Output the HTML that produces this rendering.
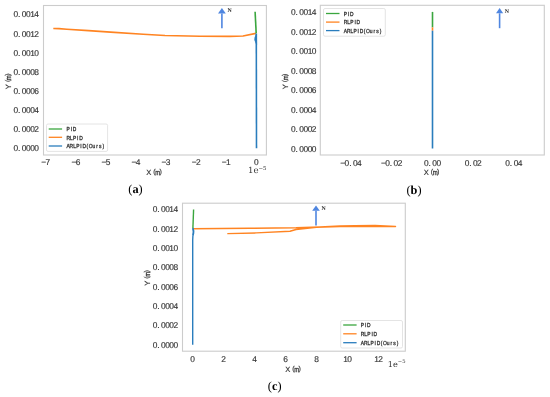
<!DOCTYPE html>
<html><head><meta charset="utf-8"><title>Figure</title>
<style>
html,body{margin:0;padding:0;background:#fff;width:550px;height:397px;overflow:hidden}
svg{position:absolute;left:0;top:0;display:block}
</style></head><body>
<svg width="550" height="397" viewBox="0 0 550 397" text-rendering="geometricPrecision">
<rect width="550" height="397" fill="#fff"/>
<rect x="43.5" y="5.5" width="222.90" height="149.50" fill="none" stroke="#cccccc" stroke-width="1.1"/>
<text x="15.88 19.23 24.18 28.33 32.48 36.62" y="151.30" font-size="8.4" text-anchor="middle" font-family='"Liberation Sans","Noto Sans CJK SC",sans-serif' fill="#333333" stroke="#333333" stroke-width="0.15" >0.0000</text>
<text x="15.88 19.23 24.18 28.33 32.48 36.62" y="132.17" font-size="8.4" text-anchor="middle" font-family='"Liberation Sans","Noto Sans CJK SC",sans-serif' fill="#333333" stroke="#333333" stroke-width="0.15" >0.0002</text>
<text x="15.88 19.23 24.18 28.33 32.48 36.62" y="113.04" font-size="8.4" text-anchor="middle" font-family='"Liberation Sans","Noto Sans CJK SC",sans-serif' fill="#333333" stroke="#333333" stroke-width="0.15" >0.0004</text>
<text x="15.88 19.23 24.18 28.33 32.48 36.62" y="93.91" font-size="8.4" text-anchor="middle" font-family='"Liberation Sans","Noto Sans CJK SC",sans-serif' fill="#333333" stroke="#333333" stroke-width="0.15" >0.0006</text>
<text x="15.88 19.23 24.18 28.33 32.48 36.62" y="74.78" font-size="8.4" text-anchor="middle" font-family='"Liberation Sans","Noto Sans CJK SC",sans-serif' fill="#333333" stroke="#333333" stroke-width="0.15" >0.0008</text>
<text x="15.88 19.23 24.18 28.33 32.48 36.62" y="55.65" font-size="8.4" text-anchor="middle" font-family='"Liberation Sans","Noto Sans CJK SC",sans-serif' fill="#333333" stroke="#333333" stroke-width="0.15" >0.0010</text>
<text x="15.88 19.23 24.18 28.33 32.48 36.62" y="36.52" font-size="8.4" text-anchor="middle" font-family='"Liberation Sans","Noto Sans CJK SC",sans-serif' fill="#333333" stroke="#333333" stroke-width="0.15" >0.0012</text>
<text x="15.88 19.23 24.18 28.33 32.48 36.62" y="17.39" font-size="8.4" text-anchor="middle" font-family='"Liberation Sans","Noto Sans CJK SC",sans-serif' fill="#333333" stroke="#333333" stroke-width="0.15" >0.0014</text>
<text x="43.81 47.96" y="165.10" font-size="8.4" text-anchor="middle" font-family='"Liberation Sans","Noto Sans CJK SC",sans-serif' fill="#333333" stroke="#333333" stroke-width="0.15" >−7</text>
<text x="73.87 78.02" y="165.10" font-size="8.4" text-anchor="middle" font-family='"Liberation Sans","Noto Sans CJK SC",sans-serif' fill="#333333" stroke="#333333" stroke-width="0.15" >−6</text>
<text x="103.93 108.08" y="165.10" font-size="8.4" text-anchor="middle" font-family='"Liberation Sans","Noto Sans CJK SC",sans-serif' fill="#333333" stroke="#333333" stroke-width="0.15" >−5</text>
<text x="133.98 138.13" y="165.10" font-size="8.4" text-anchor="middle" font-family='"Liberation Sans","Noto Sans CJK SC",sans-serif' fill="#333333" stroke="#333333" stroke-width="0.15" >−4</text>
<text x="164.04 168.19" y="165.10" font-size="8.4" text-anchor="middle" font-family='"Liberation Sans","Noto Sans CJK SC",sans-serif' fill="#333333" stroke="#333333" stroke-width="0.15" >−3</text>
<text x="194.10 198.25" y="165.10" font-size="8.4" text-anchor="middle" font-family='"Liberation Sans","Noto Sans CJK SC",sans-serif' fill="#333333" stroke="#333333" stroke-width="0.15" >−2</text>
<text x="224.16 228.31" y="165.10" font-size="8.4" text-anchor="middle" font-family='"Liberation Sans","Noto Sans CJK SC",sans-serif' fill="#333333" stroke="#333333" stroke-width="0.15" >−1</text>
<text x="256.30" y="165.10" font-size="8.4" text-anchor="middle" font-family='"Liberation Sans","Noto Sans CJK SC",sans-serif' fill="#333333" stroke="#333333" stroke-width="0.15" >0</text>
<text x="148.80" y="175.20" font-size="7.6" text-anchor="middle" font-family='"Liberation Sans","Noto Sans CJK SC",sans-serif' fill="#333333" stroke="#333333" stroke-width="0.15" >X</text><text x="154.50" y="174.25" font-size="7.068" text-anchor="middle" font-family='"Liberation Sans","Noto Sans CJK SC",sans-serif' fill="#333333" stroke="#333333" stroke-width="0.15" >(</text><text x="160.80" y="174.25" font-size="7.068" text-anchor="middle" font-family='"Liberation Sans","Noto Sans CJK SC",sans-serif' fill="#333333" stroke="#333333" stroke-width="0.15" >)</text><text x="0" y="0" font-size="7.6" text-anchor="middle" font-family='"Liberation Sans","Noto Sans CJK SC",sans-serif' fill="#333333" stroke="#333333" stroke-width="0.3" transform="translate(157.70,175.20) scale(0.78,1)">m</text>
<g transform="rotate(-90 7.6 81.4)"><text x="2.40" y="84.40" font-size="7.6" text-anchor="middle" font-family='"Liberation Sans","Noto Sans CJK SC",sans-serif' fill="#333333" stroke="#333333" stroke-width="0.15" >Y</text><text x="8.10" y="83.45" font-size="7.068" text-anchor="middle" font-family='"Liberation Sans","Noto Sans CJK SC",sans-serif' fill="#333333" stroke="#333333" stroke-width="0.15" >(</text><text x="14.40" y="83.45" font-size="7.068" text-anchor="middle" font-family='"Liberation Sans","Noto Sans CJK SC",sans-serif' fill="#333333" stroke="#333333" stroke-width="0.15" >)</text><text x="0" y="0" font-size="7.6" text-anchor="middle" font-family='"Liberation Sans","Noto Sans CJK SC",sans-serif' fill="#333333" stroke="#333333" stroke-width="0.3" transform="translate(11.30,84.40) scale(0.78,1)">m</text></g>
<text x="266.60" y="173.20" font-size="8.6" text-anchor="end" font-family='"DejaVu Serif","Liberation Serif",serif' fill="#333333">1e<tspan font-size="5.50" dy="-3.44">−5</tspan></text>
<polyline points="53.30,28.50 59.00,28.60 66.80,29.20 88.60,30.60 110.50,32.10 143.20,34.30 165.00,35.50 200.00,36.20 230.00,36.40 243.00,36.00 255.90,33.40" fill="none" stroke="#ff8422" stroke-width="1.6" stroke-linejoin="round" stroke-linecap="butt"/>
<polyline points="255.10,11.70 256.20,33.40" fill="none" stroke="#3aa63e" stroke-width="1.6" stroke-linejoin="round" stroke-linecap="butt"/>
<polyline points="256.30,33.40 256.50,148.30" fill="none" stroke="#2a7dbd" stroke-width="1.6" stroke-linejoin="round" stroke-linecap="butt"/>
<polygon points="256.4,34.0 255.0,37.5 254.8,40.0 256.6,44.5" fill="#2a7dbd" stroke="#2a7dbd" stroke-width="0.9" stroke-linejoin="round"/>
<rect x="46.5" y="124" width="61.1" height="27.4" rx="1.5" fill="#fff" stroke="#dddddd" stroke-width="0.8"/><line x1="48.7" y1="129" x2="62.1" y2="129" stroke="#3aa63e" stroke-width="1.3"/><text x="80.24 84.00 87.76" y="131.20" font-size="5.8" text-anchor="middle" font-family='"Liberation Sans","Noto Sans CJK SC",sans-serif' fill="#333333" stroke="#333333" stroke-width="0.3"  transform="scale(0.85,1)">PID</text><line x1="48.7" y1="137.3" x2="62.1" y2="137.3" stroke="#ff8422" stroke-width="1.3"/><text x="80.24 84.00 87.76 91.53 95.29" y="139.50" font-size="5.8" text-anchor="middle" font-family='"Liberation Sans","Noto Sans CJK SC",sans-serif' fill="#333333" stroke="#333333" stroke-width="0.3"  transform="scale(0.85,1)">RLPID</text><line x1="48.7" y1="146" x2="62.1" y2="146" stroke="#2a7dbd" stroke-width="1.3"/><text x="80.24 84.00 87.76 91.53 95.29 99.06 102.82 106.59 110.35 114.12 117.88 121.65" y="148.20" font-size="5.8" text-anchor="middle" font-family='"Liberation Sans","Noto Sans CJK SC",sans-serif' fill="#333333" stroke="#333333" stroke-width="0.3"  transform="scale(0.85,1)">ARLPID(Ours)</text>
<line x1="221.9" y1="28.2" x2="221.9" y2="13.6" stroke="#4f86e0" stroke-width="1.6"/><polygon points="218.00,13.6 221.9,8.1 225.80,13.6" fill="#4f86e0"/><text x="227.4" y="12.4" font-size="5.8" font-family='"Liberation Serif","Noto Serif CJK SC",serif' font-weight="bold" fill="#222">N</text>
<text x="135.5" y="193.2" font-size="12.3" text-anchor="middle" font-family='"Liberation Serif","Noto Serif CJK SC",serif' fill="#000">(<tspan font-weight="bold">a</tspan>)</text>
<rect x="320.3" y="5.3" width="224.00" height="149.70" fill="none" stroke="#cccccc" stroke-width="1.1"/>
<text x="293.38 296.73 301.68 305.82 309.98 314.12" y="151.50" font-size="8.4" text-anchor="middle" font-family='"Liberation Sans","Noto Sans CJK SC",sans-serif' fill="#333333" stroke="#333333" stroke-width="0.15" >0.0000</text>
<text x="293.38 296.73 301.68 305.82 309.98 314.12" y="132.01" font-size="8.4" text-anchor="middle" font-family='"Liberation Sans","Noto Sans CJK SC",sans-serif' fill="#333333" stroke="#333333" stroke-width="0.15" >0.0002</text>
<text x="293.38 296.73 301.68 305.82 309.98 314.12" y="112.52" font-size="8.4" text-anchor="middle" font-family='"Liberation Sans","Noto Sans CJK SC",sans-serif' fill="#333333" stroke="#333333" stroke-width="0.15" >0.0004</text>
<text x="293.38 296.73 301.68 305.82 309.98 314.12" y="93.03" font-size="8.4" text-anchor="middle" font-family='"Liberation Sans","Noto Sans CJK SC",sans-serif' fill="#333333" stroke="#333333" stroke-width="0.15" >0.0006</text>
<text x="293.38 296.73 301.68 305.82 309.98 314.12" y="73.54" font-size="8.4" text-anchor="middle" font-family='"Liberation Sans","Noto Sans CJK SC",sans-serif' fill="#333333" stroke="#333333" stroke-width="0.15" >0.0008</text>
<text x="293.38 296.73 301.68 305.82 309.98 314.12" y="54.05" font-size="8.4" text-anchor="middle" font-family='"Liberation Sans","Noto Sans CJK SC",sans-serif' fill="#333333" stroke="#333333" stroke-width="0.15" >0.0010</text>
<text x="293.38 296.73 301.68 305.82 309.98 314.12" y="34.56" font-size="8.4" text-anchor="middle" font-family='"Liberation Sans","Noto Sans CJK SC",sans-serif' fill="#333333" stroke="#333333" stroke-width="0.15" >0.0012</text>
<text x="293.38 296.73 301.68 305.82 309.98 314.12" y="15.07" font-size="8.4" text-anchor="middle" font-family='"Liberation Sans","Noto Sans CJK SC",sans-serif' fill="#333333" stroke="#333333" stroke-width="0.15" >0.0014</text>
<text x="342.80 346.95 350.31 355.25 359.40" y="165.80" font-size="8.4" text-anchor="middle" font-family='"Liberation Sans","Noto Sans CJK SC",sans-serif' fill="#333333" stroke="#333333" stroke-width="0.15" >−0.04</text>
<text x="383.50 387.65 391.01 395.95 400.10" y="165.80" font-size="8.4" text-anchor="middle" font-family='"Liberation Sans","Noto Sans CJK SC",sans-serif' fill="#333333" stroke="#333333" stroke-width="0.15" >−0.02</text>
<text x="426.27 429.63 434.57 438.72" y="165.80" font-size="8.4" text-anchor="middle" font-family='"Liberation Sans","Noto Sans CJK SC",sans-serif' fill="#333333" stroke="#333333" stroke-width="0.15" >0.00</text>
<text x="466.97 470.33 475.27 479.42" y="165.80" font-size="8.4" text-anchor="middle" font-family='"Liberation Sans","Noto Sans CJK SC",sans-serif' fill="#333333" stroke="#333333" stroke-width="0.15" >0.02</text>
<text x="507.67 511.03 515.97 520.12" y="165.80" font-size="8.4" text-anchor="middle" font-family='"Liberation Sans","Noto Sans CJK SC",sans-serif' fill="#333333" stroke="#333333" stroke-width="0.15" >0.04</text>
<text x="426.25" y="175.40" font-size="7.6" text-anchor="middle" font-family='"Liberation Sans","Noto Sans CJK SC",sans-serif' fill="#333333" stroke="#333333" stroke-width="0.15" >X</text><text x="431.95" y="174.45" font-size="7.068" text-anchor="middle" font-family='"Liberation Sans","Noto Sans CJK SC",sans-serif' fill="#333333" stroke="#333333" stroke-width="0.15" >(</text><text x="438.25" y="174.45" font-size="7.068" text-anchor="middle" font-family='"Liberation Sans","Noto Sans CJK SC",sans-serif' fill="#333333" stroke="#333333" stroke-width="0.15" >)</text><text x="0" y="0" font-size="7.6" text-anchor="middle" font-family='"Liberation Sans","Noto Sans CJK SC",sans-serif' fill="#333333" stroke="#333333" stroke-width="0.3" transform="translate(435.15,175.40) scale(0.78,1)">m</text>
<g transform="rotate(-90 284.5 81.5)"><text x="279.30" y="84.50" font-size="7.6" text-anchor="middle" font-family='"Liberation Sans","Noto Sans CJK SC",sans-serif' fill="#333333" stroke="#333333" stroke-width="0.15" >Y</text><text x="285.00" y="83.55" font-size="7.068" text-anchor="middle" font-family='"Liberation Sans","Noto Sans CJK SC",sans-serif' fill="#333333" stroke="#333333" stroke-width="0.15" >(</text><text x="291.30" y="83.55" font-size="7.068" text-anchor="middle" font-family='"Liberation Sans","Noto Sans CJK SC",sans-serif' fill="#333333" stroke="#333333" stroke-width="0.15" >)</text><text x="0" y="0" font-size="7.6" text-anchor="middle" font-family='"Liberation Sans","Noto Sans CJK SC",sans-serif' fill="#333333" stroke="#333333" stroke-width="0.3" transform="translate(288.20,84.50) scale(0.78,1)">m</text></g>
<polyline points="432.50,11.90 432.50,27.40" fill="none" stroke="#3aa63e" stroke-width="1.6" stroke-linejoin="round" stroke-linecap="butt"/>
<polyline points="432.50,27.40 432.50,30.70" fill="none" stroke="#ff8422" stroke-width="1.6" stroke-linejoin="round" stroke-linecap="butt"/>
<polyline points="432.50,30.70 432.50,148.50" fill="none" stroke="#2a7dbd" stroke-width="1.6" stroke-linejoin="round" stroke-linecap="butt"/>
<rect x="323.5" y="8.5" width="61.8" height="27.7" rx="1.5" fill="#fff" stroke="#dddddd" stroke-width="0.8"/><line x1="326" y1="13.5" x2="339.5" y2="13.5" stroke="#3aa63e" stroke-width="1.3"/><text x="406.47 410.24 414.00" y="15.70" font-size="5.8" text-anchor="middle" font-family='"Liberation Sans","Noto Sans CJK SC",sans-serif' fill="#333333" stroke="#333333" stroke-width="0.3"  transform="scale(0.85,1)">PID</text><line x1="326" y1="22.1" x2="339.5" y2="22.1" stroke="#ff8422" stroke-width="1.3"/><text x="406.47 410.24 414.00 417.76 421.53" y="24.30" font-size="5.8" text-anchor="middle" font-family='"Liberation Sans","Noto Sans CJK SC",sans-serif' fill="#333333" stroke="#333333" stroke-width="0.3"  transform="scale(0.85,1)">RLPID</text><line x1="326" y1="30.6" x2="339.5" y2="30.6" stroke="#2a7dbd" stroke-width="1.3"/><text x="406.47 410.24 414.00 417.76 421.53 425.29 429.06 432.82 436.59 440.35 444.12 447.88" y="32.80" font-size="5.8" text-anchor="middle" font-family='"Liberation Sans","Noto Sans CJK SC",sans-serif' fill="#333333" stroke="#333333" stroke-width="0.3"  transform="scale(0.85,1)">ARLPID(Ours)</text>
<line x1="499.6" y1="28.2" x2="499.6" y2="13.3" stroke="#4f86e0" stroke-width="1.6"/><polygon points="496.00,13.3 499.6,8.1 503.20,13.3" fill="#4f86e0"/><text x="504.8" y="12.5" font-size="5.8" font-family='"Liberation Serif","Noto Serif CJK SC",serif' font-weight="bold" fill="#222">N</text>
<text x="414" y="193.5" font-size="12.3" text-anchor="middle" font-family='"Liberation Serif","Noto Serif CJK SC",serif' fill="#000">(<tspan font-weight="bold">b</tspan>)</text>
<rect x="182.5" y="203.2" width="222.80" height="148.00" fill="none" stroke="#cccccc" stroke-width="1.1"/>
<text x="155.07 158.43 163.38 167.53 171.68 175.82" y="347.50" font-size="8.4" text-anchor="middle" font-family='"Liberation Sans","Noto Sans CJK SC",sans-serif' fill="#333333" stroke="#333333" stroke-width="0.15" >0.0000</text>
<text x="155.07 158.43 163.38 167.53 171.68 175.82" y="328.20" font-size="8.4" text-anchor="middle" font-family='"Liberation Sans","Noto Sans CJK SC",sans-serif' fill="#333333" stroke="#333333" stroke-width="0.15" >0.0002</text>
<text x="155.07 158.43 163.38 167.53 171.68 175.82" y="308.90" font-size="8.4" text-anchor="middle" font-family='"Liberation Sans","Noto Sans CJK SC",sans-serif' fill="#333333" stroke="#333333" stroke-width="0.15" >0.0004</text>
<text x="155.07 158.43 163.38 167.53 171.68 175.82" y="289.60" font-size="8.4" text-anchor="middle" font-family='"Liberation Sans","Noto Sans CJK SC",sans-serif' fill="#333333" stroke="#333333" stroke-width="0.15" >0.0006</text>
<text x="155.07 158.43 163.38 167.53 171.68 175.82" y="270.30" font-size="8.4" text-anchor="middle" font-family='"Liberation Sans","Noto Sans CJK SC",sans-serif' fill="#333333" stroke="#333333" stroke-width="0.15" >0.0008</text>
<text x="155.07 158.43 163.38 167.53 171.68 175.82" y="251.00" font-size="8.4" text-anchor="middle" font-family='"Liberation Sans","Noto Sans CJK SC",sans-serif' fill="#333333" stroke="#333333" stroke-width="0.15" >0.0010</text>
<text x="155.07 158.43 163.38 167.53 171.68 175.82" y="231.70" font-size="8.4" text-anchor="middle" font-family='"Liberation Sans","Noto Sans CJK SC",sans-serif' fill="#333333" stroke="#333333" stroke-width="0.15" >0.0012</text>
<text x="155.07 158.43 163.38 167.53 171.68 175.82" y="212.40" font-size="8.4" text-anchor="middle" font-family='"Liberation Sans","Noto Sans CJK SC",sans-serif' fill="#333333" stroke="#333333" stroke-width="0.15" >0.0014</text>
<text x="192.60" y="361.50" font-size="8.4" text-anchor="middle" font-family='"Liberation Sans","Noto Sans CJK SC",sans-serif' fill="#333333" stroke="#333333" stroke-width="0.15" >0</text>
<text x="223.60" y="361.50" font-size="8.4" text-anchor="middle" font-family='"Liberation Sans","Noto Sans CJK SC",sans-serif' fill="#333333" stroke="#333333" stroke-width="0.15" >2</text>
<text x="254.60" y="361.50" font-size="8.4" text-anchor="middle" font-family='"Liberation Sans","Noto Sans CJK SC",sans-serif' fill="#333333" stroke="#333333" stroke-width="0.15" >4</text>
<text x="285.60" y="361.50" font-size="8.4" text-anchor="middle" font-family='"Liberation Sans","Noto Sans CJK SC",sans-serif' fill="#333333" stroke="#333333" stroke-width="0.15" >6</text>
<text x="316.60" y="361.50" font-size="8.4" text-anchor="middle" font-family='"Liberation Sans","Noto Sans CJK SC",sans-serif' fill="#333333" stroke="#333333" stroke-width="0.15" >8</text>
<text x="345.53 349.68" y="361.50" font-size="8.4" text-anchor="middle" font-family='"Liberation Sans","Noto Sans CJK SC",sans-serif' fill="#333333" stroke="#333333" stroke-width="0.15" >10</text>
<text x="376.53 380.68" y="361.50" font-size="8.4" text-anchor="middle" font-family='"Liberation Sans","Noto Sans CJK SC",sans-serif' fill="#333333" stroke="#333333" stroke-width="0.15" >12</text>
<text x="287.70" y="371.90" font-size="7.6" text-anchor="middle" font-family='"Liberation Sans","Noto Sans CJK SC",sans-serif' fill="#333333" stroke="#333333" stroke-width="0.15" >X</text><text x="293.40" y="370.95" font-size="7.068" text-anchor="middle" font-family='"Liberation Sans","Noto Sans CJK SC",sans-serif' fill="#333333" stroke="#333333" stroke-width="0.15" >(</text><text x="299.70" y="370.95" font-size="7.068" text-anchor="middle" font-family='"Liberation Sans","Noto Sans CJK SC",sans-serif' fill="#333333" stroke="#333333" stroke-width="0.15" >)</text><text x="0" y="0" font-size="7.6" text-anchor="middle" font-family='"Liberation Sans","Noto Sans CJK SC",sans-serif' fill="#333333" stroke="#333333" stroke-width="0.3" transform="translate(296.60,371.90) scale(0.78,1)">m</text>
<g transform="rotate(-90 147 278)"><text x="141.80" y="281.00" font-size="7.6" text-anchor="middle" font-family='"Liberation Sans","Noto Sans CJK SC",sans-serif' fill="#333333" stroke="#333333" stroke-width="0.15" >Y</text><text x="147.50" y="280.05" font-size="7.068" text-anchor="middle" font-family='"Liberation Sans","Noto Sans CJK SC",sans-serif' fill="#333333" stroke="#333333" stroke-width="0.15" >(</text><text x="153.80" y="280.05" font-size="7.068" text-anchor="middle" font-family='"Liberation Sans","Noto Sans CJK SC",sans-serif' fill="#333333" stroke="#333333" stroke-width="0.15" >)</text><text x="0" y="0" font-size="7.6" text-anchor="middle" font-family='"Liberation Sans","Noto Sans CJK SC",sans-serif' fill="#333333" stroke="#333333" stroke-width="0.3" transform="translate(150.70,281.00) scale(0.78,1)">m</text></g>
<text x="405.60" y="366.70" font-size="8.2" text-anchor="end" font-family='"DejaVu Serif","Liberation Serif",serif' fill="#333333">1e<tspan font-size="5.25" dy="-3.28">−5</tspan></text>
<polyline points="227.30,233.60 256.40,232.90 290.00,231.30 296.00,229.50 316.40,227.30 340.00,226.60 355.00,226.40 375.00,226.60 395.50,226.50 375.00,225.40 355.00,225.60 340.00,226.00 320.00,226.90 296.00,227.80 250.00,228.30 192.60,228.80" fill="none" stroke="#ff8422" stroke-width="1.45" stroke-linejoin="round" stroke-linecap="butt"/>
<polyline points="193.60,209.50 192.90,228.20" fill="none" stroke="#3aa63e" stroke-width="1.4" stroke-linejoin="round" stroke-linecap="butt"/>
<polyline points="192.90,228.00 193.70,231.00 193.60,233.00 192.90,236.00 192.70,240.00 192.70,344.70" fill="none" stroke="#2a7dbd" stroke-width="1.4" stroke-linejoin="round" stroke-linecap="butt"/>
<polyline points="192.90,228.50 193.20,232.00 192.90,235.00" fill="none" stroke="#2a7dbd" stroke-width="1.2" stroke-linejoin="round" stroke-linecap="butt"/>
<rect x="340.7" y="320.5" width="61.8" height="27.5" rx="1.5" fill="#fff" stroke="#dddddd" stroke-width="0.8"/><line x1="343.2" y1="325" x2="356.6" y2="325" stroke="#3aa63e" stroke-width="1.3"/><text x="426.47 430.24 434.00" y="327.20" font-size="5.8" text-anchor="middle" font-family='"Liberation Sans","Noto Sans CJK SC",sans-serif' fill="#333333" stroke="#333333" stroke-width="0.3"  transform="scale(0.85,1)">PID</text><line x1="343.2" y1="333.8" x2="356.6" y2="333.8" stroke="#ff8422" stroke-width="1.3"/><text x="426.47 430.24 434.00 437.76 441.53" y="336.00" font-size="5.8" text-anchor="middle" font-family='"Liberation Sans","Noto Sans CJK SC",sans-serif' fill="#333333" stroke="#333333" stroke-width="0.3"  transform="scale(0.85,1)">RLPID</text><line x1="343.2" y1="342.7" x2="356.6" y2="342.7" stroke="#2a7dbd" stroke-width="1.3"/><text x="426.47 430.24 434.00 437.76 441.53 445.29 449.06 452.82 456.59 460.35 464.12 467.88" y="344.90" font-size="5.8" text-anchor="middle" font-family='"Liberation Sans","Noto Sans CJK SC",sans-serif' fill="#333333" stroke="#333333" stroke-width="0.3"  transform="scale(0.85,1)">ARLPID(Ours)</text>
<line x1="316.0" y1="225.4" x2="316.0" y2="210.7" stroke="#4f86e0" stroke-width="1.6"/><polygon points="312.20,210.7 316.0,205.6 319.80,210.7" fill="#4f86e0"/><text x="321.6" y="209.9" font-size="5.8" font-family='"Liberation Serif","Noto Serif CJK SC",serif' font-weight="bold" fill="#222">N</text>
<text x="274.7" y="390.4" font-size="12.3" text-anchor="middle" font-family='"Liberation Serif","Noto Serif CJK SC",serif' fill="#000">(<tspan font-weight="bold">c</tspan>)</text>
</svg>
</body></html>
